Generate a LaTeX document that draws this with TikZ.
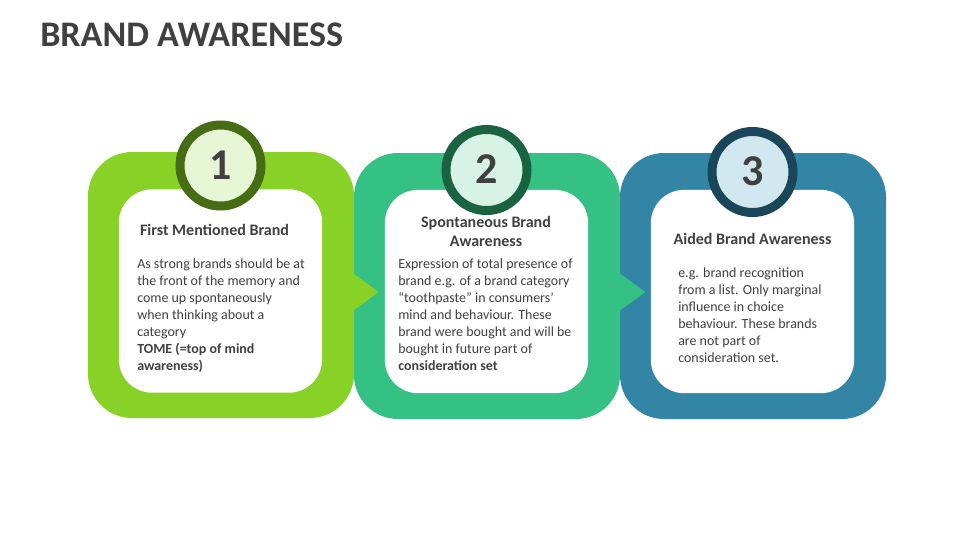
\documentclass[tikz,border=0pt]{standalone}
\usepackage{fontspec}
\setmainfont{Carlito}
\usetikzlibrary{positioning}
\definecolor{textgray}{HTML}{404040}
\definecolor{limefill}{HTML}{88D228}
\definecolor{limering}{HTML}{466C14}
\definecolor{limedisc}{HTML}{E7F6D5}
\definecolor{jadefill}{HTML}{35C084}
\definecolor{jadering}{HTML}{1A6341}
\definecolor{jadedisc}{HTML}{D7F3E6}
\definecolor{tealfill}{HTML}{3385A6}
\definecolor{tealring}{HTML}{194659}
\definecolor{tealdisc}{HTML}{D2E8F1}
\tikzset{
  panel/.style={minimum size=199.5pt, rounded corners=33pt, inner sep=0pt},
  inset/.style={fill=white, minimum size=152.5pt, rounded corners=25pt, inner sep=0pt},
  badge/.style={circle, line width=6.75pt, minimum size=60.75pt, inner sep=0pt, text=textgray, font=\fontsize{33}{36}\selectfont\bfseries},
  heading/.style={text=textgray, align=center, inner sep=0pt, font=\fontsize{12}{14.25}\selectfont\bfseries},
  body/.style={text=textgray, align=left, anchor=north west, inner sep=0pt, font=\fontsize{10.47}{12.7}\selectfont},
}
\begin{document}
\begin{tikzpicture}[x=0.75pt, y=-0.75pt]
        \useasboundingbox (0, 0) rectangle (960, 540);
        \fill [white] (0, 0) rectangle (960, 540);
        \node (title) [anchor=west, inner sep=0pt, text=textgray, font=\fontsize{27}{30}\selectfont\bfseries] at (40, 35) {BRAND AWARENESS};

        % panels, last one first
        \node (panelC) [panel, fill=tealfill] at (753, 286) {};
        \node (panelB) [panel, fill=jadefill] at (487, 286) {};
        \node (panelA) [panel, fill=limefill] at (221, 285) {};

        % tabs between the panels
        \coordinate (tipA) at (378.5, 292);
        \coordinate (tipB) at (645.5, 292);
        \fill [limefill] (353, 273) -- (tipA) -- (353, 311) -- cycle;
        \fill [jadefill] (619, 273) -- (tipB) -- (619, 311) -- cycle;

        \node (insetA) [inset] at (220.5, 291) {};
        \node (insetB) [inset] at (486.5, 291.5) {};
        \node (insetC) [inset] at (752.5, 291.5) {};

        \node (badgeA) [badge, draw=limering, fill=limedisc] at (220.5, 165.5) {\raisebox{1pt}{1}};
        \node (badgeB) [badge, draw=jadering, fill=jadedisc] at (486.5, 170) {\raisebox{1pt}{2}};
        \node (badgeC) [badge, draw=tealring, fill=tealdisc] at (752.5, 172) {\raisebox{1pt}{3}};

        \node (headA) [heading] at (214.5, 230) {First Mentioned Brand};
        \node (headB) [heading] at (486, 231) {Spontaneous Brand\\Awareness};
        \node (headC) [heading] at (752.5, 239) {Aided Brand Awareness};

        \node (bodyA) [body] at (137, 259) {As strong brands should be at\\the front of the memory and\\come up spontaneously\\when thinking about a\\category\\\textbf{TOME (=top of mind}\\\textbf{awareness)}};
        \node (bodyB) [body] at (398, 259) {Expression of total presence of\\brand e.g. of a brand category\\“toothpaste” in consumers’\\mind and behaviour. These\\brand were bought and will be\\bought in future part of\\\textbf{consideration set}};
        \node (bodyC) [body] at (678, 268) {e.g. brand recognition\\from a list. Only marginal\\influence in choice\\behaviour. These brands\\are not part of\\consideration set.};
      \end{tikzpicture}
\end{document}
